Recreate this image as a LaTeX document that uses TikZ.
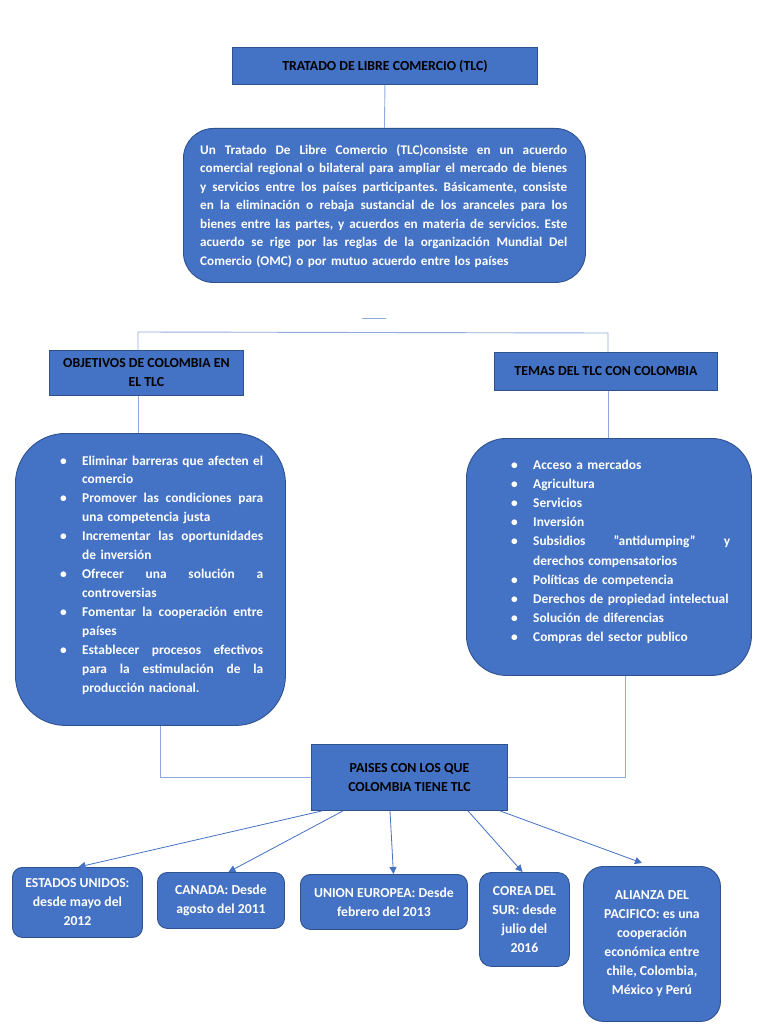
\documentclass[tikz,border=0pt]{standalone}
\usepackage{fontspec}
\usepackage{graphicx}
\setmainfont{Carlito}
\usetikzlibrary{arrows.meta}
\definecolor{fillb}{HTML}{4472C4}
\definecolor{edgeb}{HTML}{2F528F}
\definecolor{linec}{HTML}{8FAADC}
\newcommand\hdrfs{\fontsize{13.8}{19}\selectfont\bfseries}
\newcommand\botfs{\fontsize{13.7}{19}\selectfont\bfseries}
\newsavebox\jbox
\newcommand\J[2]{\leavevmode\sbox\jbox{\frenchspacing #2}%
  \ifdim\wd\jbox>#1\relax\resizebox{#1}{\height}{\usebox\jbox}%
  \else\hbox to #1{\frenchspacing\spaceskip=\fontdimen2\font plus 1fil\relax #2}\fi}
\newcommand\B{\makebox[22pt][l]{•}}
\newcommand\I{\hspace*{22pt}}
\begin{document}
\begin{tikzpicture}[x=1pt,y=-1pt,
  sq/.style={draw=edgeb, fill=fillb, line width=0.9pt, inner sep=0pt, anchor=north west},
  rb/.style={sq, rounded corners=#1},
  hdr/.style={font=\hdrfs, text=black, align=center},
  bot/.style={font=\botfs, text=white, align=center},
  body/.style={inner sep=0pt, anchor=base west, text=white, align=left},
  conn/.style={draw=linec, line width=0.9pt},
  arr/.style={draw=fillb, line width=0.8pt, -{Triangle[width=7pt,length=7pt]}}]
\useasboundingbox (0,0) rectangle (768,1024);
\fill[white] (0,0) rectangle (768,1024);
% boxes
\node[sq, hdr, minimum width=305, minimum height=37] (title) at (232,47) {TRATADO DE LIBRE COMERCIO (TLC)};
\node[rb=30, minimum width=402, minimum height=154] (defbox) at (183,128) {};
\node[body, text width=367pt, font={\fontsize{13.2}{18.5}\selectfont\bfseries}] (deftext) at (200,154.5) {%
\J{367pt}{Un Tratado De Libre Comercio (TLC)consiste en un acuerdo}\\
\J{367pt}{comercial regional o bilateral para ampliar el mercado de bienes}\\
\J{367pt}{y servicios entre los países participantes. Básicamente, consiste}\\
\J{367pt}{en la eliminación o rebaja sustancial de los aranceles para los}\\
\J{367pt}{bienes entre las partes, y acuerdos en materia de servicios. Este}\\
\J{367pt}{acuerdo se rige por las reglas de la organización Mundial Del}\\
Comercio (OMC) o por mutuo acuerdo entre los países};
\node[sq, hdr, minimum width=194, minimum height=45] (lhead) at (49,350) {OBJETIVOS DE COLOMBIA EN\\EL TLC};
\node[sq, hdr, minimum width=223, minimum height=38] (rhead) at (494,352) {TEMAS DEL TLC CON COLOMBIA};
\node[rb=50, minimum width=270, minimum height=292] (lbox) at (15,433) {};
\node[body, text width=205pt, font={\fontsize{13.4}{18.95}\selectfont\bfseries}] (ltext) at (60,465) {%
\B\J{181pt}{Eliminar barreras que afecten el}\\
\I comercio\\
\B\J{181pt}{Promover las condiciones para}\\
\I una competencia justa\\
\B\J{181pt}{Incrementar las oportunidades}\\
\I de inversión\\
\B\J{181pt}{Ofrecer una solución a}\\
\I controversias\\
\B\J{181pt}{Fomentar la cooperación entre}\\
\I países\\
\B\J{181pt}{Establecer procesos efectivos}\\
\I\J{181pt}{para la estimulación de la}\\
\I producción nacional.};
\node[rb=40, minimum width=285, minimum height=237] (rbox) at (466,438) {};
\node[body, text width=222pt, font={\fontsize{13.4}{19.2}\selectfont\bfseries}] (rtext) at (511,469) {%
\B Acceso a mercados\\
\B Agricultura\\
\B Servicios\\
\B Inversión\\
\B\J{197pt}{Subsidios ”antidumping” y}\\
\I derechos compensatorios\\
\B Políticas de competencia\\
\B Derechos de propiedad intelectual\\
\B Solución de diferencias\\
\B Compras del sector publico};
\node[sq, hdr, minimum width=196, minimum height=66] (paises) at (311,744) {PAISES CON LOS QUE\\COLOMBIA TIENE TLC};
\node[rb=10, bot, minimum width=130, minimum height=70] (us) at (12,867) {ESTADOS UNIDOS:\\desde mayo del\\2012};
\node[rb=10, bot, minimum width=127, minimum height=56] (can) at (157,872) {CANADA: Desde\\agosto del 2011};
\node[rb=10, bot, minimum width=167, minimum height=55] (ue) at (300,874) {UNION EUROPEA: Desde\\febrero del 2013};
\node[rb=12, bot, minimum width=90, minimum height=94] (cor) at (479,872) {COREA DEL\\SUR: desde\\julio del\\2016};
\node[rb=20, bot, minimum width=137, minimum height=155] (ali) at (583,866) {ALIANZA DEL\\PACIFICO: es una\\cooperación\\económica entre\\chile, Colombia,\\México y Perú};
% connectors
\coordinate (jl) at (138,332);
\coordinate (jr) at (608,333);
\coordinate (cl) at (160,0);
\coordinate (cr) at (625,0);
\draw[conn] (title.south) -- (defbox.north);
\draw[conn] (362,318) -- (386,318);
\draw[conn] (lhead.north -| jl) -- (jl) -- (jr) -- (rhead.north -| jr);
\draw[conn] (lhead.south -| jl) -- (lbox.north -| jl);
\draw[conn] (rhead.south -| jr) -- (rbox.north -| jr);
\draw[conn] (lbox.south -| cl) |- (paises.west);
\draw[conn] (rbox.south -| cr) |- (paises.east);
\draw[arr] ([xshift=11pt]paises.south west) -- ([xshift=1pt]us.north);
\draw[arr] ([xshift=32pt]paises.south west) -- ([xshift=7.5pt]can.north);
\draw[arr] ([xshift=79pt]paises.south west) -- ([xshift=9.5pt]ue.north);
\draw[arr] ([xshift=157pt]paises.south west) -- ([xshift=-2pt]cor.north);
\draw[arr] ([xshift=189pt]paises.south west) -- ([xshift=-10pt,yshift=3pt]ali.north);
\end{tikzpicture}
\end{document}
